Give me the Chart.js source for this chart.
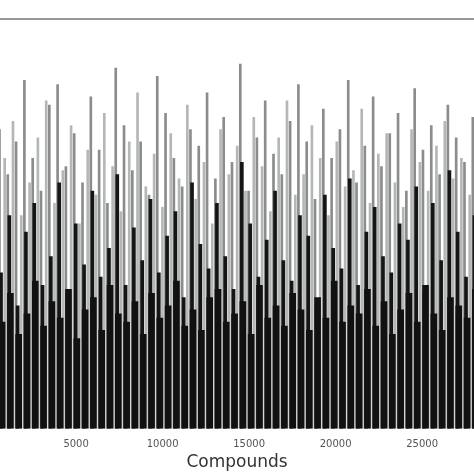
<!DOCTYPE html>
<html><head><script src="https://cdn.jsdelivr.net/npm/chart.js@4"></script>
<style>html,body{margin:0;padding:0;background:#fff}#w{width:474px;height:474px}</style></head>
<body><div id="w"><canvas id="c"></canvas></div>
<script>
const tickLabels=[5000,10000,15000,20000,25000];
const groupStart=240, groupStep=480;
const grayA=[78,73,62,70,85,66,58,79,84,64,72,60,81,68,55,88,74,63,70,57,86,77,66,59,73,69,82,61,76,65,89,58,71,80,67,62,75,84,70,56,78,66,73,85,60,69,81,64,72,77,58,83,68,74,62,79,71,65,76];
const grayB=[58,66,75,52,60,71,80,55,63,74,50,68,57,77,64,53,70,82,59,67,54,72,61,79,56,65,50,73,62,69,58,76,64,53,71,80,57,62,74,66,52,70,59,63,78,55,67,72,60,54,73,65,58,69,75,61,66,57,70];
const blackTall=[45,38,52,30,48,55,35,42,60,33,50,40,58,37,44,62,35,49,41,56,38,47,53,32,60,45,39,55,42,34,65,50,37,46,58,41,36,52,47,30,57,44,39,61,35,48,54,42,38,50,46,59,33,55,41,63,48,37,52];
const blackBlock=[30,26,33,23,28,36,25,31,27,34,22,29,32,24,35,28,26,31,23,33,27,30,36,25,29,24,32,34,26,28,31,23,35,27,30,25,33,29,24,32,27,36,26,30,28,34,25,31,23,29,33,26,35,28,24,32,30,27,34];
const pos=(i,o)=>groupStart+groupStep*i+o;
const mk=(arr,o)=>arr.map((v,i)=>({x:pos(i,o),y:v}));
const topLine={id:'topLine',afterDraw(ch){const c=ch.ctx,a=ch.chartArea;c.save();c.strokeStyle='#999';c.lineWidth=2;c.beginPath();c.moveTo(0,a.top);c.lineTo(474,a.top);c.stroke();c.restore();}};
new Chart(document.getElementById('c'),{type:'bar',
data:{datasets:[
{data:mk(blackBlock,0),backgroundColor:'#111',barThickness:6,order:0},
{data:mk(blackTall,-60),backgroundColor:'#151515',barThickness:3,order:1},
{data:mk(grayA,-150),backgroundColor:'#8c8c8c',barThickness:2,order:2},
{data:mk(grayB,150),backgroundColor:'#b3b8b6',barThickness:2,order:3}
]},
options:{responsive:true,maintainAspectRatio:false,animation:false,
layout:{padding:{top:19,left:0,right:0,bottom:1}},
plugins:{legend:{display:false},tooltip:{enabled:false}},
datasets:{bar:{grouped:false}},
scales:{
x:{type:'linear',offset:false,min:600,max:28000,grid:{display:false},border:{display:false},
afterBuildTicks:s=>{s.ticks=tickLabels.map(v=>({value:v}));},
ticks:{color:'#555',font:{family:'DejaVu Sans',size:10},padding:2,maxRotation:0,autoSkip:false,callback:v=>String(v)},
title:{display:true,text:'Compounds',color:'#333',font:{family:'DejaVu Sans',size:17},padding:{top:0,bottom:0}}},
y:{min:0,max:100,display:false}
}},plugins:[topLine]});
</script></body></html>
